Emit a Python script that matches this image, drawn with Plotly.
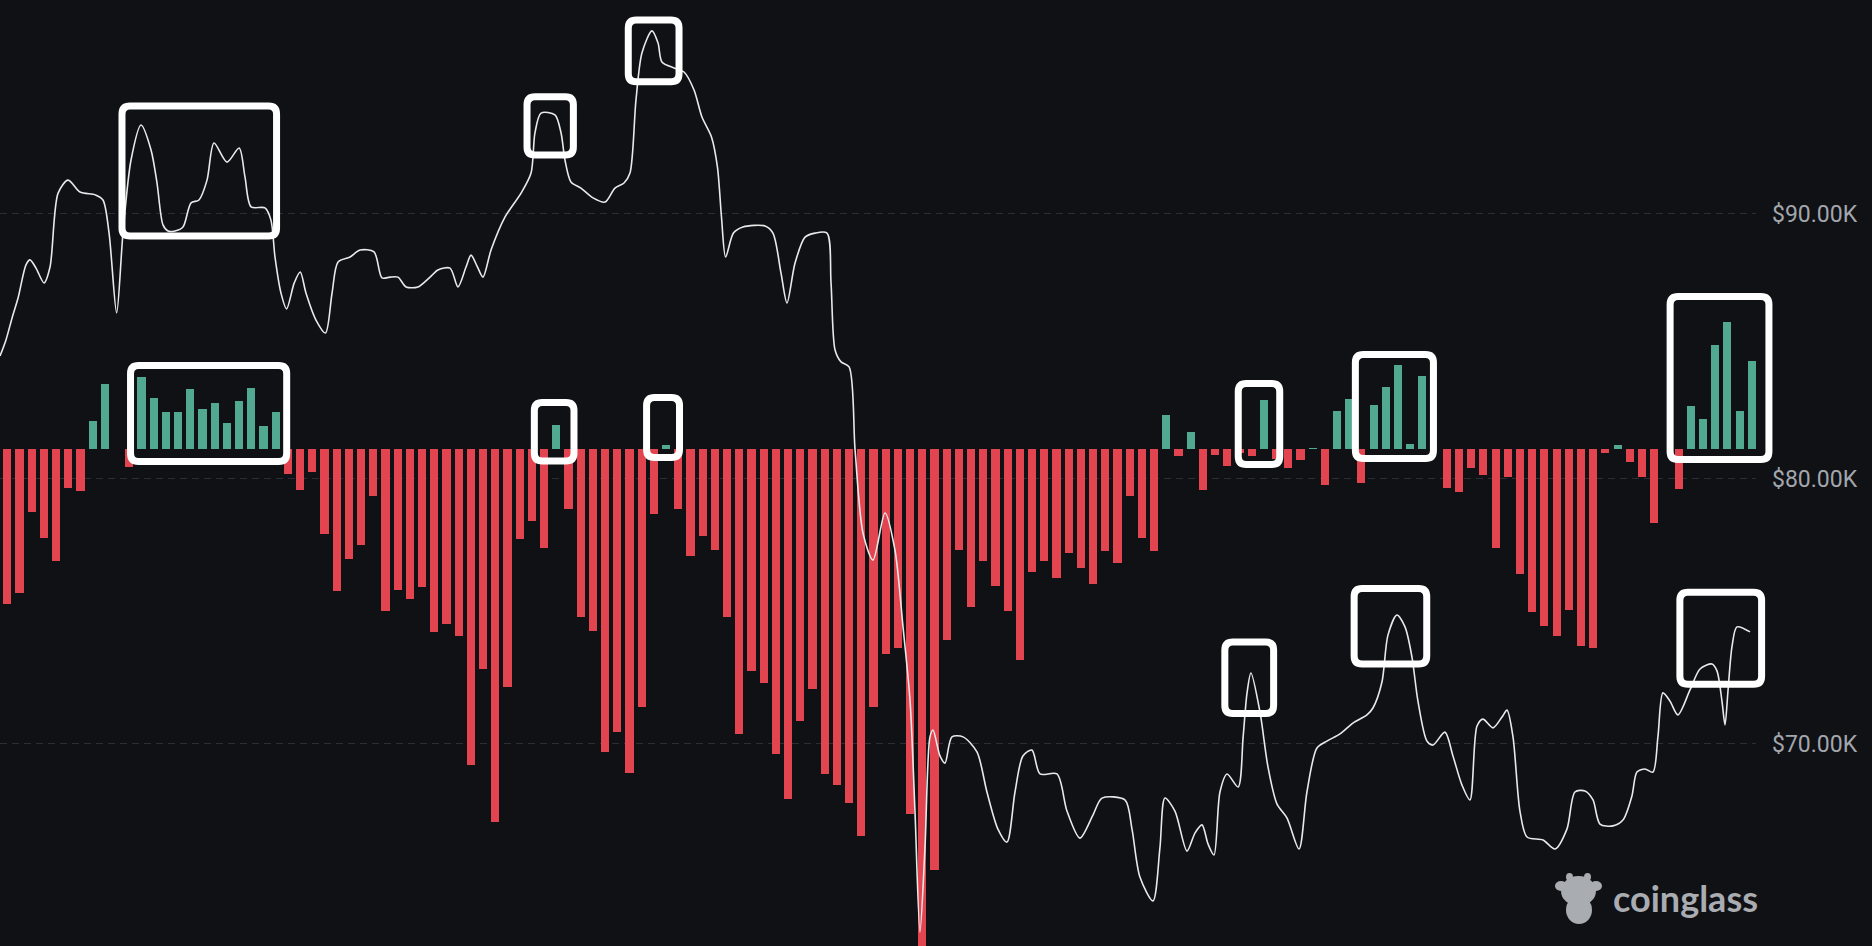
import plotly.graph_objects as go

# ---------------- data ----------------
# net flow bars (one per period), arbitrary units
bar_values = [
    -155, -144, -63, -89, -112, -39, -42, 28, 65, 0,
    -18, 72, 51, 37, 37, 60, 40, 46, 26, 48,
    61, 23, 37, -25, -41, -23, -85, -142, -110, -96,
    -47, -162, -141, -150, -138, -183, -175, -187, -316, -220,
    -373, -238, -90, -72, -99, 24, -60, -168, -182, -303,
    -283, -324, -258, -65, 4, -60, -107, -87, -101, -168,
    -285, -222, -234, -305, -350, -272, -240, -325, -336, -354,
    -387, -258, -205, -199, -365, -510, -421, -191, -101, -158,
    -112, -137, -162, -211, -123, -112, -129, -104, -119, -135,
    -102, -114, -47, -89, -102, 34, -7, 17, -41, -6,
    -17, -4, -7, 49, -10, -19, -11, 1, -36, 38,
    50, -34, 44, 62, 84, 5, 73, 0, -39, -43,
    -19, -26, -99, -28, -125, -163, -177, -187, -161, -197,
    -199, -4, 4, -13, -28, -74, 0, -40, 43, 30,
    104, 127, 38, 88,
]
bar_index = list(range(len(bar_values)))

# BTC price, sampled at (fractional) period positions
price_time = [
    -0.60, -0.11, 0.39, 0.88, 1.53, 1.86, 2.35, 3.01, 3.50, 4.16,
    4.98, 5.96, 7.23, 7.84, 8.34, 8.96, 9.48, 10.14, 10.96, 11.78,
    12.27, 12.76, 13.17, 13.74, 14.40, 15.06, 15.71, 16.37, 16.94, 18.01,
    19.00, 19.48, 19.98, 21.12, 21.61, 21.94, 22.43, 22.89, 23.52, 24.01,
    24.48, 25.30, 26.08, 26.62, 27.11, 28.09, 28.91, 30.06, 30.71, 31.37,
    32.02, 32.68, 33.66, 34.65, 35.30, 36.29, 36.94, 37.60, 38.01, 38.54,
    38.99, 39.65, 40.80, 42.11, 42.93, 43.25, 43.75, 44.89, 45.39, 45.71,
    46.20, 47.02, 48.01, 48.99, 49.81, 50.55, 51.04, 51.53, 52.02, 52.84,
    53.34, 53.66, 54.65, 55.47, 56.29, 56.94, 57.72, 58.21, 58.54, 58.88,
    59.52, 60.30, 62.11, 62.76, 63.42, 63.91, 64.57, 65.39, 66.21, 67.19,
    67.52, 67.85, 68.34, 69.00, 69.49, 70.14, 70.96, 71.94, 72.76, 73.42,
    74.00, 74.40, 74.81, 75.22, 75.63, 75.88, 76.45, 76.86, 77.43, 78.34,
    79.48, 80.30, 81.20, 81.94, 82.60, 83.25, 83.99, 84.65, 86.04, 86.86,
    87.92, 88.99, 89.73, 91.61, 92.19, 92.84, 93.91, 94.48, 94.89, 95.71,
    96.70, 97.35, 97.93, 98.42, 98.91, 99.40, 99.98, 100.89, 101.30, 101.62,
    101.94, 102.68, 103.34, 104.07, 104.89, 105.88, 106.53, 107.35, 108.17, 109.24,
    110.30, 111.45, 111.94, 112.68, 113.17, 113.91, 114.57, 115.14, 115.63, 116.37,
    116.86, 117.84, 118.50, 119.24, 119.89, 120.47, 120.96, 121.78, 122.52, 122.93,
    123.42, 123.99, 124.57, 125.88, 126.86, 127.84, 128.50, 129.32, 129.98, 130.55,
    131.61, 132.43, 133.17, 133.58, 134.24, 134.89, 135.30, 135.71, 136.29, 136.94,
    137.93, 138.75, 139.73, 140.14, 140.55, 140.80, 141.05, 141.38, 141.78, 142.85,
]
price_values = [
    84620, 85230, 86060, 86810, 88060, 88250, 87940, 87380, 87980, 90770,
    91260, 90810, 90700, 90510, 89260, 86250, 89260, 92020, 93340, 92400,
    91150, 89570, 89340, 89340, 89490, 90400, 90510, 91260, 92660, 91940,
    92470, 91380, 90250, 90210, 89750, 88360, 87000, 86400, 87380, 87790,
    87000, 85980, 85490, 87000, 88170, 88360, 88620, 88550, 87570, 87600,
    87600, 87230, 87230, 87600, 87870, 87940, 87230, 87980, 88430, 87980,
    87600, 88620, 89870, 90770, 91530, 93040, 93790, 93720, 93040, 92020,
    91190, 90960, 90590, 90430, 90960, 91150, 91530, 94280, 96060, 96890,
    96430, 95720, 95490, 95340, 94660, 93640, 92890, 91750, 89870, 88360,
    89260, 89490, 89530, 89260, 87750, 86620, 88130, 89110, 89260, 89260,
    87380, 84850, 84400, 84210, 81080, 77940, 76920, 78700, 77300, 74400,
    71600, 67450, 62890, 66060, 70250, 70510, 69530, 69260, 70250, 70250,
    69680, 68170, 66770, 66280, 68170, 69530, 69750, 68850, 68850, 67450,
    66430, 67300, 67940, 67870, 66770, 64960, 64060, 66060, 67940, 67450,
    65940, 66620, 66930, 66210, 65790, 68170, 68850, 68360, 70250, 71910,
    72660, 71190, 69110, 67720, 67190, 66020, 68170, 69830, 70090, 70360,
    70770, 71080, 71340, 72320, 74090, 74850, 74400, 73260, 71600, 70090,
    69940, 70430, 69530, 68430, 67870, 70660, 70920, 70590, 71000, 71260,
    70250, 67450, 66470, 66360, 66020, 66770, 68170, 68210, 67870, 66960,
    66890, 67110, 68020, 68920, 69040, 68920, 70250, 71910, 71600, 71080,
    72020, 72810, 73000, 72740, 71600, 70700, 72020, 73680, 74400, 74210,
]

price_ticks = [70000, 80000, 90000]
price_tick_labels = ["$70.00K", "$80.00K", "$90.00K"]

# highlight boxes: (first period, last period, low, high)
price_boxes = [
    (9.4, 22.07, 89150, 94060),
    (42.6, 46.4, 92210, 94410),
    (50.9, 55.06, 94970, 97300),
    (99.8, 103.8, 71130, 73830),
    (110.4, 116.35, 73000, 75850),
    (137.1, 143.8, 72240, 75710),
]
bar_boxes = [
    (10.1, 22.9, -13, 83),
    (43.2, 46.45, -12.5, 46),
    (52.4, 55.1, -9, 51),
    (100.9, 104.3, -16, 65),
    (110.5, 116.9, -10, 94),
    (136.3, 144.4, -11, 152),
]

# ---------------- layout constants ----------------
W, H = 1872, 946
M_L, M_R, M_T, M_B = 0, 116, 0, 0
PW, PH = W - M_L - M_R, H - M_T - M_B
X_RANGE = [-0.6, 143.34]
BAR_RANGE = [-497.4, 448.6]
PRICE_RANGE = [62358, 98057]

BG = "#0f1115"
RED = "#e2454f"
GREEN = "#52a991"
GRID = "#2b2e35"
LABEL = "#a3a6ad"

fig = go.Figure()

fig.add_trace(go.Bar(
    x=bar_index, y=bar_values, yaxis="y",
    marker=dict(color=[GREEN if v > 0 else RED for v in bar_values], line=dict(width=0)),
    width=0.66, hoverinfo="skip",
))
fig.add_trace(go.Scatter(
    x=price_time, y=price_values, yaxis="y2", mode="lines",
    line=dict(color="#e9e9ea", width=1.6, shape="spline", smoothing=0.8),
    hoverinfo="skip",
))


def to_paper_x(v):
    return (v - X_RANGE[0]) / (X_RANGE[1] - X_RANGE[0])


def to_paper_y(v, rng):
    return (v - rng[0]) / (rng[1] - rng[0])


def rounded_path(x0, x1, y0, y1, r_px=8):
    rx, ry = r_px / PW, r_px / PH
    return (f"M {x0+rx},{y0} L {x1-rx},{y0} Q {x1},{y0} {x1},{y0+ry} "
            f"L {x1},{y1-ry} Q {x1},{y1} {x1-rx},{y1} L {x0+rx},{y1} "
            f"Q {x0},{y1} {x0},{y1-ry} L {x0},{y0+ry} Q {x0},{y0} {x0+rx},{y0} Z")


shapes = []
for boxes, rng in ((bar_boxes, BAR_RANGE), (price_boxes, PRICE_RANGE)):
    for (a, b, lo, hi) in boxes:
        shapes.append(dict(
            type="path", xref="paper", yref="paper", layer="above",
            path=rounded_path(to_paper_x(a), to_paper_x(b), to_paper_y(lo, rng), to_paper_y(hi, rng)),
            line=dict(color="#ffffff", width=7), fillcolor="rgba(0,0,0,0)",
        ))

# watermark icon (simple silhouette)
ICON = "#a9acb1"


def px_circle(x0, y0, x1, y1):
    return dict(type="circle", xref="paper", yref="paper", layer="above",
                x0=x0 / PW, x1=x1 / PW, y0=1 - y1 / PH, y1=1 - y0 / PH,
                fillcolor=ICON, line=dict(width=0))


shapes += [
    px_circle(1561, 876, 1596, 906),
    px_circle(1555, 881, 1567, 891),
    px_circle(1590, 881, 1602, 891),
    px_circle(1566, 873, 1573, 881),
    px_circle(1584, 873, 1591, 881),
    px_circle(1566, 896, 1592, 924),
]

fig.update_layout(
    width=W, height=H,
    margin=dict(l=M_L, r=M_R, t=M_T, b=M_B, pad=0),
    paper_bgcolor=BG, plot_bgcolor=BG,
    showlegend=False, hovermode=False, bargap=0,
    xaxis=dict(range=X_RANGE, visible=False, fixedrange=True),
    yaxis=dict(range=BAR_RANGE, visible=False, fixedrange=True),
    yaxis2=dict(
        range=PRICE_RANGE, overlaying="y", side="right", anchor="x",
        tickvals=price_ticks, ticktext=price_tick_labels,
        showgrid=True, gridcolor=GRID, griddash="7px,5px", gridwidth=1,
        zeroline=False, showline=False, ticks="",
        ticklabelstandoff=15,
        tickfont=dict(family="Roboto, sans-serif", size=23, color=LABEL),
        fixedrange=True,
    ),
    shapes=shapes,
    annotations=[dict(
        text="<b>coinglass</b>", xref="paper", yref="paper",
        x=1611 / PW, y=1 - 898 / PH, xanchor="left", yanchor="middle",
        showarrow=False, font=dict(family="Lato, sans-serif", size=36, color=ICON),
    )],
)

fig.write_html(
    "out.html",
    config={"displayModeBar": False, "staticPlot": True},
    post_script="document.body.style.margin='0';document.body.style.overflow='hidden';",
)
